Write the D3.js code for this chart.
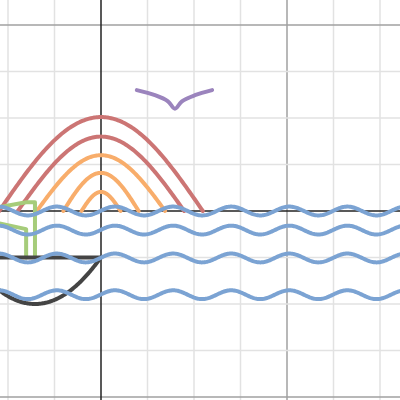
<!DOCTYPE html>
<html><head><meta charset="utf-8">
<script src="https://cdn.jsdelivr.net/npm/d3@7"></script>
<style>body{margin:0;background:#fff}svg{display:block}</style>
</head><body><svg id="chart" width="400" height="400"></svg>
<script>
// arches: peak height and half width (units)
const archPeaks = [2.02, 1.6, 1.2, 0.82, 0.41];
const archHalfWidths = [2.19, 1.79, 1.38, 0.81, 0.42];
const archColors = ['#cc7574', '#cc7574', '#f8ad6b', '#f8ad6b', '#f8ad6b'];
// waves
const waveLevels = [0, -0.41, -1.01, -1.8];
const waveAmp = 0.095, wavePeriod = 1.25, waveCrest = -0.95;
// boat
const boatDeck = -1, boatBottomX = -1.42, boatBottomY = -2.0, boatK = 0.5;
const sailA = [[-2.3, -0.24], [-1.61, -0.39], [-1.61, -1.0]];
const sailB = [[-1.42, -1.0], [-1.42, 0.19], [-1.61, 0.19], [-2.3, 0.06]];
// bird
const bird = [[0.77, 2.6], [1.16, 2.49], [1.44, 2.36], [1.59, 2.2], [1.74, 2.36], [2.02, 2.49], [2.39, 2.6]];

const x = d3.scaleLinear().domain([0, 1]).range([101, 147.5]);
const y = d3.scaleLinear().domain([0, 1]).range([211, 164.5]);
const svg = d3.select('#chart');
const [x0, x1] = [x.invert(0), x.invert(400)];
const [y0, y1] = [y.invert(400), y.invert(0)];

d3.range(Math.ceil(x0), Math.floor(x1) + 1).forEach(v => {
  if (v === 0) return;
  svg.append('line').attr('x1', x(v)).attr('x2', x(v)).attr('y1', 0).attr('y2', 400)
    .attr('stroke', v % 4 === 0 ? '#a0a0a0' : '#e2e2e2').attr('stroke-width', 1.5);
});
d3.range(Math.ceil(y0), Math.floor(y1) + 1).forEach(v => {
  if (v === 0) return;
  svg.append('line').attr('y1', y(v)).attr('y2', y(v)).attr('x1', 0).attr('x2', 400)
    .attr('stroke', v % 4 === 0 ? '#a0a0a0' : '#e2e2e2').attr('stroke-width', 1.5);
});
svg.append('line').attr('x1', x(0)).attr('x2', x(0)).attr('y1', 0).attr('y2', 400).attr('stroke', '#222').attr('stroke-width', 1.5);
svg.append('line').attr('y1', y(0)).attr('y2', y(0)).attr('x1', 0).attr('x2', 400).attr('stroke', '#222').attr('stroke-width', 1.5);

const line = d3.line().x(d => x(d[0])).y(d => y(d[1]));
const draw = (pts, color) => svg.append('path').attr('d', line(pts)).attr('fill', 'none')
  .attr('stroke', color).attr('stroke-width', 4).attr('stroke-linecap', 'round').attr('stroke-linejoin', 'round');

archPeaks.forEach((h, i) => {
  const r = archHalfWidths[i];
  draw(d3.range(-r, r + 0.001, r / 60).map(t => [t, h * Math.cos(Math.PI * t / (2 * r))]), archColors[i]);
});

draw(sailA, '#a6cc7a');
draw(sailB, '#a6cc7a');

draw([[x0 - 0.2, boatDeck], [0, boatDeck]], '#444');
draw(d3.range(x0 - 0.2, 0.001, 0.02).map(t => [t, boatBottomY + boatK * (t - boatBottomX) ** 2]), '#444');

waveLevels.forEach(c => {
  draw(d3.range(x0 - 0.2, x1 + 0.2, 0.02).map(t => [t, c + waveAmp * Math.cos(2 * Math.PI * (t - waveCrest) / wavePeriod)]), '#7ba3d3');
});

svg.append('path').attr('d', d3.line().curve(d3.curveCatmullRom).x(d => x(d[0])).y(d => y(d[1]))(bird))
  .attr('fill', 'none').attr('stroke', '#9b84bd').attr('stroke-width', 4).attr('stroke-linecap', 'round');
</script></body></html>
